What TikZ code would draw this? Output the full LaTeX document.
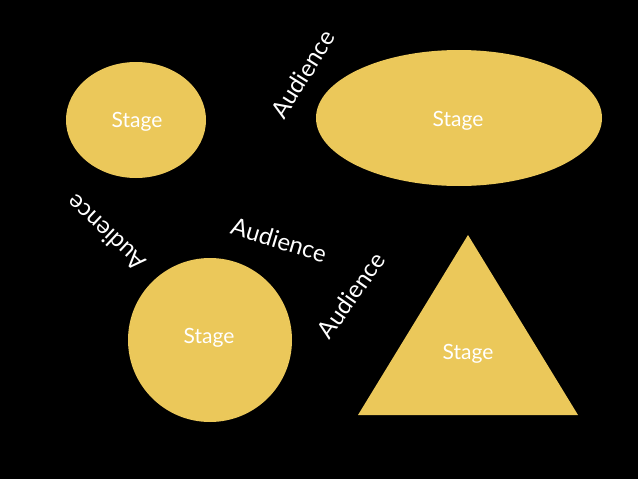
\documentclass[tikz,border=0pt]{standalone}
\usepackage{fontspec}
\setmainfont{Lato}
\definecolor{stagey}{HTML}{EBC85A}
\tikzset{stagefill/.style={fill=stagey,draw=none},
lbl/.style={text=white,font=\fontsize{21}{23}\selectfont},
aud/.style={text=white,font=\fontsize{24}{26}\selectfont}}
\begin{document}
\begin{tikzpicture}[x=1pt,y=-1pt]
\fill[black] (0,0) rectangle (638,479);
\useasboundingbox (0,0) rectangle (638,479);
\fill[stagefill] (136,120) ellipse [x radius=70,y radius=58];
\fill[stagefill] (459,118) ellipse [x radius=143,y radius=68];
\fill[stagefill] (210,340) circle [radius=82];
\fill[stagefill] (468,235) -- (578,415) -- (358,415) -- cycle;
\node[lbl] (s1) at (137,122) {Stage};
\node[lbl] (s2) at (458,121) {Stage};
\node[lbl] (s3) at (209,338) {Stage};
\node[lbl] (s4) at (468,354) {Stage};
\node[aud,rotate=58] (a1) at (303,74) {Audience};
\node[aud,rotate=137] (a2) at (106,233) {Audience};
\node[aud,rotate=-17] (a3) at (279,240) {Audience};
\node[aud,rotate=55] (a4) at (351,295) {Audience};
\end{tikzpicture}
\end{document}
